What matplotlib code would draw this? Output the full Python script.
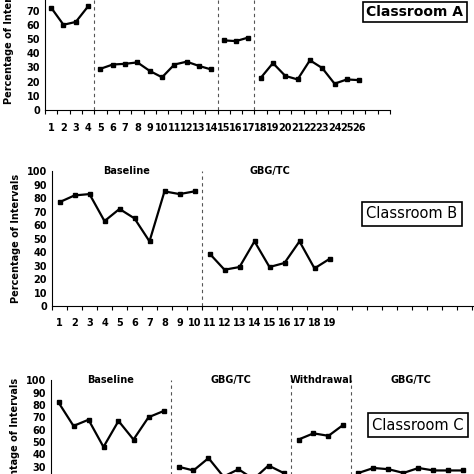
import matplotlib
matplotlib.use('Agg')
import matplotlib.pyplot as plt

#### Data
a_sessions = list(range(1, 27))
a_values = [72, 60, 62, 73,
            29, 32, 32.5, 33.5, 27.5, 23, 32, 34, 31, 28.5,
            49, 48.5, 51,
            22.5, 33, 24, 21.5, 35, 29.5, 18.5, 21.5, 21]
a_phases = [4, 10, 3, 9]

b_sessions = list(range(1, 20))
b_values = [77, 82, 83, 63, 72, 65, 48, 85, 83, 85,
            39, 27, 29, 48, 29, 32, 48, 28, 35]
b_phases = [10, 9]

c_sessions = list(range(1, 29))
c_values = [82, 63, 68, 46, 67, 52, 70, 75,
            30, 27, 37, 22, 28, 20, 31, 25,
            52, 57, 55, 64,
            25, 29, 28, 25, 29, 27, 27, 27]
c_phases = [8, 8, 4, 8]
c_labels = ['Baseline', 'GBG/TC', 'Withdrawal', 'GBG/TC']

B = dict(fontweight='bold', fontsize=7)

def draw_panel(ax, x, y, phases, nmax, labels=None, xlabels=True):
    start = 0
    for n in phases:
        xs = [v - 0.5 for v in x[start:start + n]]
        ax.plot(xs, y[start:start + n], '-s', color='black', lw=1.6, ms=3.5)
        start += n
    edge = 0
    for n in phases[:-1]:
        edge += n
        ax.axvline(edge, color='#555555', ls=(0, (3, 3)), lw=0.8)
    ax.set_xlim(0, nmax)
    ax.set_ylim(0, 100)
    ax.set_yticks(range(0, 101, 10))
    ax.tick_params(axis='y', length=0, labelsize=7)
    for t in ax.get_yticklabels():
        t.set_fontweight('bold')
    ax.set_xticks(range(0, nmax + 1))
    ax.set_xticklabels([])
    ax.tick_params(axis='x', direction='out', length=3)
    if xlabels:
        for s in x:
            ax.text(s - 0.5, -9, str(s), ha='center', va='top', **B)
    for sp in ['top', 'right']:
        ax.spines[sp].set_visible(False)
    ax.set_ylabel('Percentage of Intervals', fontsize=7, fontweight='bold')
    if labels:
        edge = 0
        for n, lab in zip(phases, labels):
            ax.text(edge + n / 2, 100, lab, ha='center', va='center', **B)
            edge += n
    return ax

fig = plt.figure(figsize=(4.74, 4.74), dpi=100)

axA = fig.add_axes([45 / 474, 0.768, 345 / 474, 0.2996])
draw_panel(axA, a_sessions, a_values, a_phases, 28)
fig.text(415 / 474, 1 - 12 / 474, 'Classroom A', ha='center', va='center', fontsize=10, fontweight='bold',
         bbox=dict(boxstyle='square,pad=0.25', fc='white', ec='black', lw=1.2))

axB = fig.add_axes([52 / 474, 0.354, 450 / 474, 0.285])
draw_panel(axB, b_sessions, b_values, b_phases, 30, labels=['Baseline', 'GBG/TC'])
fig.text(412 / 474, 1 - 214 / 474, 'Classroom B', ha='center', va='center', fontsize=10.5,
         bbox=dict(boxstyle='square,pad=0.3', fc='white', ec='black', lw=1.2))

axC = fig.add_axes([51 / 474, -0.063, 450 / 474, 0.261])
draw_panel(axC, c_sessions, c_values, c_phases, 30, labels=c_labels, xlabels=False)
fig.text(418 / 474, 1 - 425 / 474, 'Classroom C', ha='center', va='center', fontsize=10.5,
         bbox=dict(boxstyle='square,pad=0.3', fc='white', ec='black', lw=1.2))

plt.savefig('out.png', dpi=100)
